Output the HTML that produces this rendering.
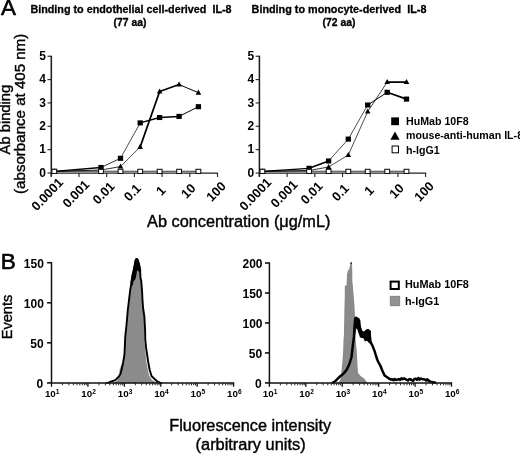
<!DOCTYPE html>
<html><head><meta charset="utf-8"><title>Figure</title>
<style>
html,body{margin:0;padding:0;background:#fff;width:520px;height:454px;overflow:hidden;}
svg{display:block;}
text{font-family:"Liberation Sans",sans-serif;fill:#000;}
</style></head><body>
<svg width="520" height="454" viewBox="0 0 520 454">
<rect width="520" height="454" fill="#fff"/>
<text x="0.9" y="15.3" font-size="22.4" stroke="#000" stroke-width="0.6">A</text>
<text x="30.40" y="13.00" font-size="11" font-weight="bold" textLength="201.2" lengthAdjust="spacingAndGlyphs" stroke="#000" stroke-width="0.3">Binding to endothelial cell-derived&#160; IL-8</text>
<text x="113.60" y="26.00" font-size="11" font-weight="bold" textLength="32.8" lengthAdjust="spacingAndGlyphs" stroke="#000" stroke-width="0.3">(77 aa)</text>
<text x="251.60" y="13.00" font-size="11" font-weight="bold" textLength="174.8" lengthAdjust="spacingAndGlyphs" stroke="#000" stroke-width="0.3">Binding to monocyte-derived&#160; IL-8</text>
<text x="322.60" y="26.00" font-size="11" font-weight="bold" textLength="32.8" lengthAdjust="spacingAndGlyphs" stroke="#000" stroke-width="0.3">(72 aa)</text>
<g transform="translate(10.0,119.6) rotate(-90)"><text x="0" y="0" font-size="14.75" text-anchor="middle" stroke="#000" stroke-width="0.4">Ab binding</text></g>
<g transform="translate(25.1,113.8) rotate(-90)"><text x="0" y="0" font-size="15.1" text-anchor="middle" stroke="#000" stroke-width="0.4">(absorbance at 405 nm)</text></g>
<text x="147" y="227.3" font-size="16" textLength="183.4" lengthAdjust="spacingAndGlyphs" stroke="#000" stroke-width="0.4">Ab concentration (&#956;g/mL)</text>
<line x1="51.30" y1="55.70" x2="51.30" y2="176.50" stroke="#222" stroke-width="1.6"/>
<line x1="47.50" y1="173.00" x2="51.30" y2="173.00" stroke="#222" stroke-width="1.1"/>
<text x="46.00" y="176.80" font-size="12" font-weight="bold" text-anchor="end" >0</text>
<line x1="47.50" y1="149.65" x2="51.30" y2="149.65" stroke="#222" stroke-width="1.1"/>
<text x="46.00" y="153.45" font-size="12" font-weight="bold" text-anchor="end" >1</text>
<line x1="47.50" y1="126.30" x2="51.30" y2="126.30" stroke="#222" stroke-width="1.1"/>
<text x="46.00" y="130.10" font-size="12" font-weight="bold" text-anchor="end" >2</text>
<line x1="47.50" y1="102.95" x2="51.30" y2="102.95" stroke="#222" stroke-width="1.1"/>
<text x="46.00" y="106.75" font-size="12" font-weight="bold" text-anchor="end" >3</text>
<line x1="47.50" y1="79.60" x2="51.30" y2="79.60" stroke="#222" stroke-width="1.1"/>
<text x="46.00" y="83.40" font-size="12" font-weight="bold" text-anchor="end" >4</text>
<line x1="47.50" y1="56.25" x2="51.30" y2="56.25" stroke="#222" stroke-width="1.1"/>
<text x="46.00" y="60.05" font-size="12" font-weight="bold" text-anchor="end" >5</text>
<line x1="51.30" y1="173.20" x2="218.00" y2="173.20" stroke="#222" stroke-width="1.2"/>
<line x1="51.30" y1="173.00" x2="51.30" y2="177.00" stroke="#222" stroke-width="1.1"/>
<text x="47.05" y="198.75" font-size="12.9" font-weight="bold" text-anchor="middle" transform="rotate(-46 47.05 194.15)">0.0001</text>
<line x1="79.00" y1="173.00" x2="79.00" y2="177.00" stroke="#222" stroke-width="1.1"/>
<text x="75.80" y="198.25" font-size="12.9" font-weight="bold" text-anchor="middle" transform="rotate(-46 75.80 193.65)">0.001</text>
<line x1="106.70" y1="173.00" x2="106.70" y2="177.00" stroke="#222" stroke-width="1.1"/>
<text x="103.40" y="197.40" font-size="12.9" font-weight="bold" text-anchor="middle" transform="rotate(-46 103.40 192.80)">0.01</text>
<line x1="134.40" y1="173.00" x2="134.40" y2="177.00" stroke="#222" stroke-width="1.1"/>
<text x="132.15" y="196.85" font-size="12.9" font-weight="bold" text-anchor="middle" transform="rotate(-46 132.15 192.25)">0.1</text>
<line x1="162.10" y1="173.00" x2="162.10" y2="177.00" stroke="#222" stroke-width="1.1"/>
<text x="160.80" y="195.20" font-size="12.9" font-weight="bold" text-anchor="middle" transform="rotate(-46 160.80 190.60)">1</text>
<line x1="189.80" y1="173.00" x2="189.80" y2="177.00" stroke="#222" stroke-width="1.1"/>
<text x="188.25" y="195.40" font-size="12.9" font-weight="bold" text-anchor="middle" transform="rotate(-46 188.25 190.80)">10</text>
<line x1="217.50" y1="173.00" x2="217.50" y2="177.00" stroke="#222" stroke-width="1.1"/>
<text x="215.85" y="195.95" font-size="12.9" font-weight="bold" text-anchor="middle" transform="rotate(-46 215.85 191.35)">100</text>
<line x1="54.30" y1="171.20" x2="101.00" y2="171.20" stroke="#3a3a3a" stroke-width="1.1" stroke-linecap="round"/>
<line x1="101.00" y1="171.20" x2="120.50" y2="171.20" stroke="#3a3a3a" stroke-width="1.1" stroke-linecap="round"/>
<line x1="120.50" y1="171.20" x2="140.20" y2="171.20" stroke="#3a3a3a" stroke-width="1.1" stroke-linecap="round"/>
<line x1="140.20" y1="171.20" x2="159.60" y2="171.20" stroke="#3a3a3a" stroke-width="1.1" stroke-linecap="round"/>
<line x1="159.60" y1="171.20" x2="179.10" y2="171.20" stroke="#3a3a3a" stroke-width="1.1" stroke-linecap="round"/>
<line x1="179.10" y1="171.20" x2="198.40" y2="171.20" stroke="#3a3a3a" stroke-width="1.1" stroke-linecap="round"/>
<line x1="54.30" y1="171.40" x2="101.00" y2="167.50" stroke="#000" stroke-width="1.3" stroke-linecap="round"/>
<line x1="101.00" y1="167.50" x2="120.50" y2="158.30" stroke="#000" stroke-width="0.8" stroke-linecap="round"/>
<line x1="120.50" y1="158.30" x2="140.20" y2="122.90" stroke="#000" stroke-width="0.7" stroke-linecap="round"/>
<line x1="140.20" y1="122.90" x2="159.60" y2="117.50" stroke="#000" stroke-width="1.5" stroke-linecap="round"/>
<line x1="159.60" y1="117.50" x2="179.10" y2="116.40" stroke="#000" stroke-width="1.5" stroke-linecap="round"/>
<line x1="179.10" y1="116.40" x2="198.40" y2="106.70" stroke="#000" stroke-width="1.0" stroke-linecap="round"/>
<line x1="54.30" y1="171.40" x2="101.00" y2="170.00" stroke="#000" stroke-width="0.9" stroke-linecap="round"/>
<line x1="101.00" y1="170.00" x2="120.50" y2="166.60" stroke="#000" stroke-width="0.8" stroke-linecap="round"/>
<line x1="120.50" y1="166.60" x2="140.20" y2="146.90" stroke="#000" stroke-width="0.7" stroke-linecap="round"/>
<line x1="140.20" y1="146.90" x2="159.60" y2="91.60" stroke="#000" stroke-width="1.7" stroke-linecap="round"/>
<line x1="159.60" y1="91.60" x2="179.10" y2="84.50" stroke="#000" stroke-width="1.6" stroke-linecap="round"/>
<line x1="179.10" y1="84.50" x2="198.40" y2="92.70" stroke="#000" stroke-width="1.0" stroke-linecap="round"/>
<rect x="51.65" y="168.85" width="5.3" height="5.1" fill="#000"/>
<rect x="98.35" y="164.95" width="5.3" height="5.1" fill="#000"/>
<rect x="117.85" y="155.75" width="5.3" height="5.1" fill="#000"/>
<rect x="137.55" y="120.35" width="5.3" height="5.1" fill="#000"/>
<rect x="156.95" y="114.95" width="5.3" height="5.1" fill="#000"/>
<rect x="176.45" y="113.85" width="5.3" height="5.1" fill="#000"/>
<rect x="195.75" y="104.15" width="5.3" height="5.1" fill="#000"/>
<polygon points="54.30,168.30 51.50,173.40 57.10,173.40" fill="#000"/>
<polygon points="101.00,166.90 98.20,172.00 103.80,172.00" fill="#000"/>
<polygon points="120.50,163.50 117.70,168.60 123.30,168.60" fill="#000"/>
<polygon points="140.20,143.80 137.40,148.90 143.00,148.90" fill="#000"/>
<polygon points="159.60,88.50 156.80,93.60 162.40,93.60" fill="#000"/>
<polygon points="179.10,81.40 176.30,86.50 181.90,86.50" fill="#000"/>
<polygon points="198.40,89.60 195.60,94.70 201.20,94.70" fill="#000"/>
<rect x="51.90" y="169.30" width="4.8" height="4.2" fill="#fff" stroke="#111" stroke-width="1.05"/>
<rect x="98.60" y="169.30" width="4.8" height="4.2" fill="#fff" stroke="#111" stroke-width="1.05"/>
<rect x="118.10" y="169.30" width="4.8" height="4.2" fill="#fff" stroke="#111" stroke-width="1.05"/>
<rect x="137.80" y="169.30" width="4.8" height="4.2" fill="#fff" stroke="#111" stroke-width="1.05"/>
<rect x="157.20" y="169.30" width="4.8" height="4.2" fill="#fff" stroke="#111" stroke-width="1.05"/>
<rect x="176.70" y="169.30" width="4.8" height="4.2" fill="#fff" stroke="#111" stroke-width="1.05"/>
<rect x="196.00" y="169.30" width="4.8" height="4.2" fill="#fff" stroke="#111" stroke-width="1.05"/>
<line x1="259.40" y1="55.70" x2="259.40" y2="176.50" stroke="#222" stroke-width="1.6"/>
<line x1="255.60" y1="173.00" x2="259.40" y2="173.00" stroke="#222" stroke-width="1.1"/>
<text x="254.10" y="176.80" font-size="12" font-weight="bold" text-anchor="end" >0</text>
<line x1="255.60" y1="149.65" x2="259.40" y2="149.65" stroke="#222" stroke-width="1.1"/>
<text x="254.10" y="153.45" font-size="12" font-weight="bold" text-anchor="end" >1</text>
<line x1="255.60" y1="126.30" x2="259.40" y2="126.30" stroke="#222" stroke-width="1.1"/>
<text x="254.10" y="130.10" font-size="12" font-weight="bold" text-anchor="end" >2</text>
<line x1="255.60" y1="102.95" x2="259.40" y2="102.95" stroke="#222" stroke-width="1.1"/>
<text x="254.10" y="106.75" font-size="12" font-weight="bold" text-anchor="end" >3</text>
<line x1="255.60" y1="79.60" x2="259.40" y2="79.60" stroke="#222" stroke-width="1.1"/>
<text x="254.10" y="83.40" font-size="12" font-weight="bold" text-anchor="end" >4</text>
<line x1="255.60" y1="56.25" x2="259.40" y2="56.25" stroke="#222" stroke-width="1.1"/>
<text x="254.10" y="60.05" font-size="12" font-weight="bold" text-anchor="end" >5</text>
<line x1="259.40" y1="173.20" x2="426.10" y2="173.20" stroke="#222" stroke-width="1.2"/>
<line x1="259.40" y1="173.00" x2="259.40" y2="177.00" stroke="#222" stroke-width="1.1"/>
<text x="255.15" y="198.75" font-size="12.9" font-weight="bold" text-anchor="middle" transform="rotate(-46 255.15 194.15)">0.0001</text>
<line x1="287.10" y1="173.00" x2="287.10" y2="177.00" stroke="#222" stroke-width="1.1"/>
<text x="283.90" y="198.25" font-size="12.9" font-weight="bold" text-anchor="middle" transform="rotate(-46 283.90 193.65)">0.001</text>
<line x1="314.80" y1="173.00" x2="314.80" y2="177.00" stroke="#222" stroke-width="1.1"/>
<text x="311.50" y="197.40" font-size="12.9" font-weight="bold" text-anchor="middle" transform="rotate(-46 311.50 192.80)">0.01</text>
<line x1="342.50" y1="173.00" x2="342.50" y2="177.00" stroke="#222" stroke-width="1.1"/>
<text x="340.25" y="196.85" font-size="12.9" font-weight="bold" text-anchor="middle" transform="rotate(-46 340.25 192.25)">0.1</text>
<line x1="370.20" y1="173.00" x2="370.20" y2="177.00" stroke="#222" stroke-width="1.1"/>
<text x="368.90" y="195.20" font-size="12.9" font-weight="bold" text-anchor="middle" transform="rotate(-46 368.90 190.60)">1</text>
<line x1="397.90" y1="173.00" x2="397.90" y2="177.00" stroke="#222" stroke-width="1.1"/>
<text x="396.35" y="195.40" font-size="12.9" font-weight="bold" text-anchor="middle" transform="rotate(-46 396.35 190.80)">10</text>
<line x1="425.60" y1="173.00" x2="425.60" y2="177.00" stroke="#222" stroke-width="1.1"/>
<text x="423.95" y="195.95" font-size="12.9" font-weight="bold" text-anchor="middle" transform="rotate(-46 423.95 191.35)">100</text>
<line x1="262.40" y1="171.20" x2="309.10" y2="171.20" stroke="#3a3a3a" stroke-width="1.1" stroke-linecap="round"/>
<line x1="309.10" y1="171.20" x2="328.60" y2="171.20" stroke="#3a3a3a" stroke-width="1.1" stroke-linecap="round"/>
<line x1="328.60" y1="171.20" x2="348.30" y2="171.20" stroke="#3a3a3a" stroke-width="1.1" stroke-linecap="round"/>
<line x1="348.30" y1="171.20" x2="367.70" y2="171.20" stroke="#3a3a3a" stroke-width="1.1" stroke-linecap="round"/>
<line x1="367.70" y1="171.20" x2="387.20" y2="171.20" stroke="#3a3a3a" stroke-width="1.1" stroke-linecap="round"/>
<line x1="387.20" y1="171.20" x2="406.50" y2="171.20" stroke="#3a3a3a" stroke-width="1.1" stroke-linecap="round"/>
<line x1="262.40" y1="171.40" x2="309.10" y2="168.30" stroke="#000" stroke-width="1.3" stroke-linecap="round"/>
<line x1="309.10" y1="168.30" x2="328.60" y2="161.00" stroke="#000" stroke-width="1.5" stroke-linecap="round"/>
<line x1="328.60" y1="161.00" x2="348.30" y2="139.10" stroke="#000" stroke-width="0.7" stroke-linecap="round"/>
<line x1="348.30" y1="139.10" x2="367.70" y2="105.00" stroke="#000" stroke-width="0.7" stroke-linecap="round"/>
<line x1="367.70" y1="105.00" x2="387.20" y2="92.30" stroke="#000" stroke-width="1.0" stroke-linecap="round"/>
<line x1="387.20" y1="92.30" x2="406.50" y2="99.10" stroke="#000" stroke-width="1.7" stroke-linecap="round"/>
<line x1="262.40" y1="171.40" x2="309.10" y2="170.50" stroke="#000" stroke-width="0.9" stroke-linecap="round"/>
<line x1="309.10" y1="170.50" x2="328.60" y2="167.00" stroke="#000" stroke-width="0.8" stroke-linecap="round"/>
<line x1="328.60" y1="167.00" x2="348.30" y2="155.00" stroke="#000" stroke-width="0.7" stroke-linecap="round"/>
<line x1="348.30" y1="155.00" x2="367.70" y2="111.60" stroke="#000" stroke-width="0.7" stroke-linecap="round"/>
<line x1="367.70" y1="111.60" x2="387.20" y2="82.10" stroke="#000" stroke-width="0.75" stroke-linecap="round"/>
<line x1="387.20" y1="82.10" x2="406.50" y2="82.10" stroke="#000" stroke-width="1.8" stroke-linecap="round"/>
<rect x="259.75" y="168.85" width="5.3" height="5.1" fill="#000"/>
<rect x="306.45" y="165.75" width="5.3" height="5.1" fill="#000"/>
<rect x="325.95" y="158.45" width="5.3" height="5.1" fill="#000"/>
<rect x="345.65" y="136.55" width="5.3" height="5.1" fill="#000"/>
<rect x="365.05" y="102.45" width="5.3" height="5.1" fill="#000"/>
<rect x="384.55" y="89.75" width="5.3" height="5.1" fill="#000"/>
<rect x="403.85" y="96.55" width="5.3" height="5.1" fill="#000"/>
<polygon points="262.40,168.30 259.60,173.40 265.20,173.40" fill="#000"/>
<polygon points="309.10,167.40 306.30,172.50 311.90,172.50" fill="#000"/>
<polygon points="328.60,163.90 325.80,169.00 331.40,169.00" fill="#000"/>
<polygon points="348.30,151.90 345.50,157.00 351.10,157.00" fill="#000"/>
<polygon points="367.70,108.50 364.90,113.60 370.50,113.60" fill="#000"/>
<polygon points="387.20,79.00 384.40,84.10 390.00,84.10" fill="#000"/>
<polygon points="406.50,79.00 403.70,84.10 409.30,84.10" fill="#000"/>
<rect x="260.00" y="169.30" width="4.8" height="4.2" fill="#fff" stroke="#111" stroke-width="1.05"/>
<rect x="306.70" y="169.30" width="4.8" height="4.2" fill="#fff" stroke="#111" stroke-width="1.05"/>
<rect x="326.20" y="169.30" width="4.8" height="4.2" fill="#fff" stroke="#111" stroke-width="1.05"/>
<rect x="345.90" y="169.30" width="4.8" height="4.2" fill="#fff" stroke="#111" stroke-width="1.05"/>
<rect x="365.30" y="169.30" width="4.8" height="4.2" fill="#fff" stroke="#111" stroke-width="1.05"/>
<rect x="384.80" y="169.30" width="4.8" height="4.2" fill="#fff" stroke="#111" stroke-width="1.05"/>
<rect x="404.10" y="169.30" width="4.8" height="4.2" fill="#fff" stroke="#111" stroke-width="1.05"/>
<rect x="391.2" y="117.4" width="7.8" height="7.8" fill="#000"/>
<polygon points="395,131.4 390.4,139.8 399.6,139.8" fill="#000"/>
<rect x="392.1" y="146" width="6.4" height="6.8" fill="#fff" stroke="#000" stroke-width="1"/>
<text x="406.00" y="124.80" font-size="10.65" font-weight="bold" text-anchor="start" >HuMab 10F8</text>
<text x="406.00" y="138.60" font-size="10.65" font-weight="bold" text-anchor="start" >mouse-anti-human IL-8</text>
<text x="406.00" y="153.80" font-size="10.65" font-weight="bold" text-anchor="start" >h-IgG1</text>
<text x="0.7" y="268.9" font-size="22.6" stroke="#000" stroke-width="0.6">B</text>
<g transform="translate(12.2,317) rotate(-90)"><text x="0" y="0" font-size="14.6" text-anchor="middle" stroke="#000" stroke-width="0.4">Events</text></g>
<text x="169.3" y="431" font-size="16" textLength="161.8" lengthAdjust="spacingAndGlyphs" stroke="#000" stroke-width="0.4">Fluorescence intensity</text>
<text x="195.6" y="449.6" font-size="16" textLength="110" lengthAdjust="spacingAndGlyphs" stroke="#000" stroke-width="0.4">(arbitrary units)</text>
<path d="M111.00,383.30 L114.50,382.20 L117.50,380.20 L119.00,377.00 L119.40,373.00 L119.70,369.00 L121.20,365.50 L123.20,362.00 L124.40,355.00 L124.90,345.00 L125.20,337.00 L126.50,325.00 L127.80,310.00 L129.00,300.00 L130.20,290.00 L131.40,283.50 L132.20,278.10 L132.70,275.00 L133.80,270.40 L134.60,266.60 L135.60,260.60 L136.70,259.10 L137.40,259.40 L138.90,264.30 L140.10,270.40 L140.50,278.10 L141.20,280.40 L142.00,290.00 L142.50,300.00 L143.10,308.00 L144.20,317.00 L144.60,330.00 L144.50,341.70 L146.40,362.00 L149.10,375.40 L152.00,380.00 L156.00,382.20 L160.00,383.30 Z" fill="#8c8c8c" stroke="none" stroke-width="0" stroke-linejoin="round"/>
<path d="M106.00,382.90 L108.50,382.60 L110.80,381.60 L115.30,380.10 L118.30,377.30 L120.40,374.00 L121.80,369.00 L123.20,362.00 L124.40,355.00 L124.90,345.00 L125.20,337.00 L126.50,325.00 L127.80,310.00 L129.00,300.00 L130.20,290.00 L131.40,283.50 L132.20,278.10 L132.70,275.00 L133.80,270.40 L134.60,266.60 L135.60,260.60 L136.20,259.40 L136.70,259.10 L137.40,259.40 L138.90,264.30 L140.10,270.40 L140.50,278.10 L141.20,280.40 L142.00,290.00 L142.50,300.00 L143.10,308.00 L144.40,317.00 L145.10,330.00 L145.30,340.00 L146.20,348.50 L148.20,362.00 L149.70,370.00 L151.50,376.00 L154.80,379.20 L157.50,381.50 L160.00,382.60 L162.00,383.00" fill="none" stroke="#000" stroke-width="1.9" stroke-linejoin="round"/>
<path d="M130.30,283.50 L131.10,278.10 L131.60,275.00 L132.70,270.40 L133.50,266.60 L134.60,260.40 L135.50,258.60 L136.60,257.90 L137.60,258.40 L138.50,259.60 L140.00,264.30 L141.20,270.40 L140.50,272.50 L139.30,272.00 L137.60,270.40 L137.00,270.60 L136.60,273.50 L135.80,278.10 L135.00,279.70 L133.50,281.20 L132.70,285.80 Z" fill="#000" stroke="none" stroke-width="0" stroke-linejoin="round"/>
<path d="M336.50,383.30 L339.30,381.60 L340.50,379.00 L341.10,374.00 L341.80,367.60 L342.60,358.80 L343.20,350.00 L343.50,340.00 L343.90,336.00 L344.40,309.20 L344.80,296.00 L344.80,286.00 L346.60,285.10 L346.80,279.00 L347.00,274.50 L347.90,270.60 L349.20,269.20 L350.10,264.80 L350.70,262.20 L351.60,262.20 L352.10,264.00 L352.30,273.70 L352.30,282.50 L352.80,284.20 L353.20,291.30 L353.70,296.00 L354.50,305.70 L355.00,316.30 L355.30,330.00 L355.60,340.00 L356.70,350.00 L357.60,367.60 L358.10,372.90 L361.10,376.40 L363.80,378.20 L366.00,380.80 L366.90,382.60 L367.50,383.30 Z" fill="#8a8a8a" stroke="none" stroke-width="0" stroke-linejoin="round"/>
<circle cx="351.2" cy="263.2" r="0.9" fill="#333"/>
<path d="M332.00,382.80 L334.50,381.80 L336.80,379.60 L338.80,377.60 L340.50,376.00 L342.20,374.80 L344.40,372.70 L347.00,369.20 L349.70,363.20 L351.50,357.00 L352.30,350.00 L353.10,343.50 L354.00,336.40 L354.40,329.40 L354.80,323.20 L355.40,318.20 L356.00,317.80 L357.00,318.50 L358.40,319.20 L359.20,321.00 L359.50,326.00 L360.40,329.60 L361.80,332.60 L363.60,334.30 L365.30,333.20 L366.60,331.00 L368.00,330.50 L369.30,331.50 L369.80,336.00 L370.30,341.50 L372.40,345.60 L374.40,350.60 L375.60,354.50 L377.20,359.50 L378.30,362.00 L380.60,366.20 L382.60,371.30 L384.60,375.40 L387.20,377.30 L389.50,378.90 L391.00,379.55 L392.30,379.20 L393.60,380.20 L394.90,379.04 L396.20,379.97 L397.50,379.63 L398.80,379.02 L400.10,379.91 L401.40,378.37 L402.70,379.17 L404.00,378.44 L405.30,379.08 L406.60,379.75 L407.90,380.55 L409.20,379.15 L410.50,379.35 L411.80,380.15 L413.10,380.80 L414.40,379.05 L415.70,378.69 L417.00,379.85 L418.30,377.99 L419.60,379.62 L420.90,378.48 L422.20,379.19 L423.50,379.14 L424.80,379.52 L426.10,380.53 L427.40,379.26 L428.50,380.60 L430.50,381.60 L433.00,382.30 L436.00,382.80" fill="none" stroke="#000" stroke-width="2.5" stroke-linejoin="round"/>
<path d="M354.30,319.00 L355.30,316.80 L356.50,317.00 L358.30,318.40 L359.50,320.50 L360.60,325.90 L361.90,330.80 L363.90,331.60 L366.60,329.60 L368.60,328.90 L370.90,331.00 L371.20,340.50 L372.30,343.50 L369.50,343.60 L366.90,340.80 L364.90,341.60 L363.40,338.20 L360.00,337.50 L358.50,333.00 L357.40,329.50 L355.80,328.30 L355.40,333.00 L354.50,336.00 L353.60,335.00 L354.00,328.00 Z" fill="#000" stroke="none" stroke-width="0" stroke-linejoin="round"/>
<line x1="51.50" y1="262.10" x2="51.50" y2="383.70" stroke="#111" stroke-width="1.5"/>
<line x1="47.10" y1="382.90" x2="51.50" y2="382.90" stroke="#111" stroke-width="1.6"/>
<text x="43.10" y="387.70" font-size="12" font-weight="bold" text-anchor="end" >0</text>
<line x1="47.10" y1="342.83" x2="51.50" y2="342.83" stroke="#111" stroke-width="1.6"/>
<text x="43.60" y="347.63" font-size="12" font-weight="bold" text-anchor="end" >50</text>
<line x1="47.10" y1="302.77" x2="51.50" y2="302.77" stroke="#111" stroke-width="1.6"/>
<text x="43.90" y="307.57" font-size="12" font-weight="bold" text-anchor="end" >100</text>
<line x1="47.10" y1="262.70" x2="51.50" y2="262.70" stroke="#111" stroke-width="1.6"/>
<text x="43.90" y="267.50" font-size="12" font-weight="bold" text-anchor="end" >150</text>
<line x1="51.50" y1="382.90" x2="234.20" y2="382.90" stroke="#111" stroke-width="1.5"/>
<line x1="51.50" y1="382.90" x2="51.50" y2="386.70" stroke="#111" stroke-width="1.3"/>
<line x1="62.46" y1="382.90" x2="62.46" y2="385.30" stroke="#222" stroke-width="1.0"/>
<line x1="68.88" y1="382.90" x2="68.88" y2="385.30" stroke="#222" stroke-width="1.0"/>
<line x1="73.43" y1="382.90" x2="73.43" y2="385.30" stroke="#222" stroke-width="1.0"/>
<line x1="76.96" y1="382.90" x2="76.96" y2="385.30" stroke="#222" stroke-width="1.0"/>
<line x1="79.84" y1="382.90" x2="79.84" y2="385.30" stroke="#222" stroke-width="1.0"/>
<line x1="82.28" y1="382.90" x2="82.28" y2="385.30" stroke="#222" stroke-width="1.0"/>
<line x1="84.39" y1="382.90" x2="84.39" y2="385.30" stroke="#222" stroke-width="1.0"/>
<line x1="86.25" y1="382.90" x2="86.25" y2="385.30" stroke="#222" stroke-width="1.0"/>
<line x1="87.92" y1="382.90" x2="87.92" y2="386.70" stroke="#111" stroke-width="1.3"/>
<line x1="98.88" y1="382.90" x2="98.88" y2="385.30" stroke="#222" stroke-width="1.0"/>
<line x1="105.30" y1="382.90" x2="105.30" y2="385.30" stroke="#222" stroke-width="1.0"/>
<line x1="109.85" y1="382.90" x2="109.85" y2="385.30" stroke="#222" stroke-width="1.0"/>
<line x1="113.38" y1="382.90" x2="113.38" y2="385.30" stroke="#222" stroke-width="1.0"/>
<line x1="116.26" y1="382.90" x2="116.26" y2="385.30" stroke="#222" stroke-width="1.0"/>
<line x1="118.70" y1="382.90" x2="118.70" y2="385.30" stroke="#222" stroke-width="1.0"/>
<line x1="120.81" y1="382.90" x2="120.81" y2="385.30" stroke="#222" stroke-width="1.0"/>
<line x1="122.67" y1="382.90" x2="122.67" y2="385.30" stroke="#222" stroke-width="1.0"/>
<line x1="124.34" y1="382.90" x2="124.34" y2="386.70" stroke="#111" stroke-width="1.3"/>
<line x1="135.30" y1="382.90" x2="135.30" y2="385.30" stroke="#222" stroke-width="1.0"/>
<line x1="141.72" y1="382.90" x2="141.72" y2="385.30" stroke="#222" stroke-width="1.0"/>
<line x1="146.27" y1="382.90" x2="146.27" y2="385.30" stroke="#222" stroke-width="1.0"/>
<line x1="149.80" y1="382.90" x2="149.80" y2="385.30" stroke="#222" stroke-width="1.0"/>
<line x1="152.68" y1="382.90" x2="152.68" y2="385.30" stroke="#222" stroke-width="1.0"/>
<line x1="155.12" y1="382.90" x2="155.12" y2="385.30" stroke="#222" stroke-width="1.0"/>
<line x1="157.23" y1="382.90" x2="157.23" y2="385.30" stroke="#222" stroke-width="1.0"/>
<line x1="159.09" y1="382.90" x2="159.09" y2="385.30" stroke="#222" stroke-width="1.0"/>
<line x1="160.76" y1="382.90" x2="160.76" y2="386.70" stroke="#111" stroke-width="1.3"/>
<line x1="171.72" y1="382.90" x2="171.72" y2="385.30" stroke="#222" stroke-width="1.0"/>
<line x1="178.14" y1="382.90" x2="178.14" y2="385.30" stroke="#222" stroke-width="1.0"/>
<line x1="182.69" y1="382.90" x2="182.69" y2="385.30" stroke="#222" stroke-width="1.0"/>
<line x1="186.22" y1="382.90" x2="186.22" y2="385.30" stroke="#222" stroke-width="1.0"/>
<line x1="189.10" y1="382.90" x2="189.10" y2="385.30" stroke="#222" stroke-width="1.0"/>
<line x1="191.54" y1="382.90" x2="191.54" y2="385.30" stroke="#222" stroke-width="1.0"/>
<line x1="193.65" y1="382.90" x2="193.65" y2="385.30" stroke="#222" stroke-width="1.0"/>
<line x1="195.51" y1="382.90" x2="195.51" y2="385.30" stroke="#222" stroke-width="1.0"/>
<line x1="197.18" y1="382.90" x2="197.18" y2="386.70" stroke="#111" stroke-width="1.3"/>
<line x1="208.14" y1="382.90" x2="208.14" y2="385.30" stroke="#222" stroke-width="1.0"/>
<line x1="214.56" y1="382.90" x2="214.56" y2="385.30" stroke="#222" stroke-width="1.0"/>
<line x1="219.11" y1="382.90" x2="219.11" y2="385.30" stroke="#222" stroke-width="1.0"/>
<line x1="222.64" y1="382.90" x2="222.64" y2="385.30" stroke="#222" stroke-width="1.0"/>
<line x1="225.52" y1="382.90" x2="225.52" y2="385.30" stroke="#222" stroke-width="1.0"/>
<line x1="227.96" y1="382.90" x2="227.96" y2="385.30" stroke="#222" stroke-width="1.0"/>
<line x1="230.07" y1="382.90" x2="230.07" y2="385.30" stroke="#222" stroke-width="1.0"/>
<line x1="231.93" y1="382.90" x2="231.93" y2="385.30" stroke="#222" stroke-width="1.0"/>
<line x1="233.60" y1="382.90" x2="233.60" y2="386.70" stroke="#111" stroke-width="1.3"/>
<text x="52.20" y="397.40" font-size="9.8" font-weight="bold" text-anchor="middle">10<tspan font-size="6.6" dy="-3.4">1</tspan></text>
<text x="88.62" y="397.40" font-size="9.8" font-weight="bold" text-anchor="middle">10<tspan font-size="6.6" dy="-3.4">2</tspan></text>
<text x="125.04" y="397.40" font-size="9.8" font-weight="bold" text-anchor="middle">10<tspan font-size="6.6" dy="-3.4">3</tspan></text>
<text x="161.46" y="397.40" font-size="9.8" font-weight="bold" text-anchor="middle">10<tspan font-size="6.6" dy="-3.4">4</tspan></text>
<text x="197.88" y="397.40" font-size="9.8" font-weight="bold" text-anchor="middle">10<tspan font-size="6.6" dy="-3.4">5</tspan></text>
<text x="234.30" y="397.40" font-size="9.8" font-weight="bold" text-anchor="middle">10<tspan font-size="6.6" dy="-3.4">6</tspan></text>
<line x1="269.40" y1="262.40" x2="269.40" y2="383.70" stroke="#111" stroke-width="1.5"/>
<line x1="265.00" y1="382.90" x2="269.40" y2="382.90" stroke="#111" stroke-width="1.6"/>
<text x="261.70" y="387.70" font-size="12" font-weight="bold" text-anchor="end" >0</text>
<line x1="265.00" y1="352.92" x2="269.40" y2="352.92" stroke="#111" stroke-width="1.6"/>
<text x="262.20" y="357.72" font-size="12" font-weight="bold" text-anchor="end" >50</text>
<line x1="265.00" y1="322.95" x2="269.40" y2="322.95" stroke="#111" stroke-width="1.6"/>
<text x="262.50" y="327.75" font-size="12" font-weight="bold" text-anchor="end" >100</text>
<line x1="265.00" y1="292.98" x2="269.40" y2="292.98" stroke="#111" stroke-width="1.6"/>
<text x="262.50" y="297.78" font-size="12" font-weight="bold" text-anchor="end" >150</text>
<line x1="265.00" y1="263.00" x2="269.40" y2="263.00" stroke="#111" stroke-width="1.6"/>
<text x="262.50" y="267.80" font-size="12" font-weight="bold" text-anchor="end" >200</text>
<line x1="269.40" y1="382.90" x2="452.10" y2="382.90" stroke="#111" stroke-width="1.5"/>
<line x1="269.40" y1="382.90" x2="269.40" y2="386.70" stroke="#111" stroke-width="1.3"/>
<line x1="280.36" y1="382.90" x2="280.36" y2="385.30" stroke="#222" stroke-width="1.0"/>
<line x1="286.78" y1="382.90" x2="286.78" y2="385.30" stroke="#222" stroke-width="1.0"/>
<line x1="291.33" y1="382.90" x2="291.33" y2="385.30" stroke="#222" stroke-width="1.0"/>
<line x1="294.86" y1="382.90" x2="294.86" y2="385.30" stroke="#222" stroke-width="1.0"/>
<line x1="297.74" y1="382.90" x2="297.74" y2="385.30" stroke="#222" stroke-width="1.0"/>
<line x1="300.18" y1="382.90" x2="300.18" y2="385.30" stroke="#222" stroke-width="1.0"/>
<line x1="302.29" y1="382.90" x2="302.29" y2="385.30" stroke="#222" stroke-width="1.0"/>
<line x1="304.15" y1="382.90" x2="304.15" y2="385.30" stroke="#222" stroke-width="1.0"/>
<line x1="305.82" y1="382.90" x2="305.82" y2="386.70" stroke="#111" stroke-width="1.3"/>
<line x1="316.78" y1="382.90" x2="316.78" y2="385.30" stroke="#222" stroke-width="1.0"/>
<line x1="323.20" y1="382.90" x2="323.20" y2="385.30" stroke="#222" stroke-width="1.0"/>
<line x1="327.75" y1="382.90" x2="327.75" y2="385.30" stroke="#222" stroke-width="1.0"/>
<line x1="331.28" y1="382.90" x2="331.28" y2="385.30" stroke="#222" stroke-width="1.0"/>
<line x1="334.16" y1="382.90" x2="334.16" y2="385.30" stroke="#222" stroke-width="1.0"/>
<line x1="336.60" y1="382.90" x2="336.60" y2="385.30" stroke="#222" stroke-width="1.0"/>
<line x1="338.71" y1="382.90" x2="338.71" y2="385.30" stroke="#222" stroke-width="1.0"/>
<line x1="340.57" y1="382.90" x2="340.57" y2="385.30" stroke="#222" stroke-width="1.0"/>
<line x1="342.24" y1="382.90" x2="342.24" y2="386.70" stroke="#111" stroke-width="1.3"/>
<line x1="353.20" y1="382.90" x2="353.20" y2="385.30" stroke="#222" stroke-width="1.0"/>
<line x1="359.62" y1="382.90" x2="359.62" y2="385.30" stroke="#222" stroke-width="1.0"/>
<line x1="364.17" y1="382.90" x2="364.17" y2="385.30" stroke="#222" stroke-width="1.0"/>
<line x1="367.70" y1="382.90" x2="367.70" y2="385.30" stroke="#222" stroke-width="1.0"/>
<line x1="370.58" y1="382.90" x2="370.58" y2="385.30" stroke="#222" stroke-width="1.0"/>
<line x1="373.02" y1="382.90" x2="373.02" y2="385.30" stroke="#222" stroke-width="1.0"/>
<line x1="375.13" y1="382.90" x2="375.13" y2="385.30" stroke="#222" stroke-width="1.0"/>
<line x1="376.99" y1="382.90" x2="376.99" y2="385.30" stroke="#222" stroke-width="1.0"/>
<line x1="378.66" y1="382.90" x2="378.66" y2="386.70" stroke="#111" stroke-width="1.3"/>
<line x1="389.62" y1="382.90" x2="389.62" y2="385.30" stroke="#222" stroke-width="1.0"/>
<line x1="396.04" y1="382.90" x2="396.04" y2="385.30" stroke="#222" stroke-width="1.0"/>
<line x1="400.59" y1="382.90" x2="400.59" y2="385.30" stroke="#222" stroke-width="1.0"/>
<line x1="404.12" y1="382.90" x2="404.12" y2="385.30" stroke="#222" stroke-width="1.0"/>
<line x1="407.00" y1="382.90" x2="407.00" y2="385.30" stroke="#222" stroke-width="1.0"/>
<line x1="409.44" y1="382.90" x2="409.44" y2="385.30" stroke="#222" stroke-width="1.0"/>
<line x1="411.55" y1="382.90" x2="411.55" y2="385.30" stroke="#222" stroke-width="1.0"/>
<line x1="413.41" y1="382.90" x2="413.41" y2="385.30" stroke="#222" stroke-width="1.0"/>
<line x1="415.08" y1="382.90" x2="415.08" y2="386.70" stroke="#111" stroke-width="1.3"/>
<line x1="426.04" y1="382.90" x2="426.04" y2="385.30" stroke="#222" stroke-width="1.0"/>
<line x1="432.46" y1="382.90" x2="432.46" y2="385.30" stroke="#222" stroke-width="1.0"/>
<line x1="437.01" y1="382.90" x2="437.01" y2="385.30" stroke="#222" stroke-width="1.0"/>
<line x1="440.54" y1="382.90" x2="440.54" y2="385.30" stroke="#222" stroke-width="1.0"/>
<line x1="443.42" y1="382.90" x2="443.42" y2="385.30" stroke="#222" stroke-width="1.0"/>
<line x1="445.86" y1="382.90" x2="445.86" y2="385.30" stroke="#222" stroke-width="1.0"/>
<line x1="447.97" y1="382.90" x2="447.97" y2="385.30" stroke="#222" stroke-width="1.0"/>
<line x1="449.83" y1="382.90" x2="449.83" y2="385.30" stroke="#222" stroke-width="1.0"/>
<line x1="451.50" y1="382.90" x2="451.50" y2="386.70" stroke="#111" stroke-width="1.3"/>
<text x="270.10" y="397.40" font-size="9.8" font-weight="bold" text-anchor="middle">10<tspan font-size="6.6" dy="-3.4">1</tspan></text>
<text x="306.52" y="397.40" font-size="9.8" font-weight="bold" text-anchor="middle">10<tspan font-size="6.6" dy="-3.4">2</tspan></text>
<text x="342.94" y="397.40" font-size="9.8" font-weight="bold" text-anchor="middle">10<tspan font-size="6.6" dy="-3.4">3</tspan></text>
<text x="379.36" y="397.40" font-size="9.8" font-weight="bold" text-anchor="middle">10<tspan font-size="6.6" dy="-3.4">4</tspan></text>
<text x="415.78" y="397.40" font-size="9.8" font-weight="bold" text-anchor="middle">10<tspan font-size="6.6" dy="-3.4">5</tspan></text>
<text x="452.20" y="397.40" font-size="9.8" font-weight="bold" text-anchor="middle">10<tspan font-size="6.6" dy="-3.4">6</tspan></text>
<rect x="390.6" y="281.6" width="8.2" height="7.4" fill="#fff" stroke="#000" stroke-width="2"/>
<rect x="390.3" y="296.3" width="9.4" height="9.4" fill="#939393" stroke="#7e7e7e" stroke-width="0.9"/>
<text x="405.00" y="288.30" font-size="10.85" font-weight="bold" text-anchor="start" >HuMab 10F8</text>
<text x="405.00" y="305.30" font-size="10.85" font-weight="bold" text-anchor="start" >h-IgG1</text>
</svg>
</body></html>
